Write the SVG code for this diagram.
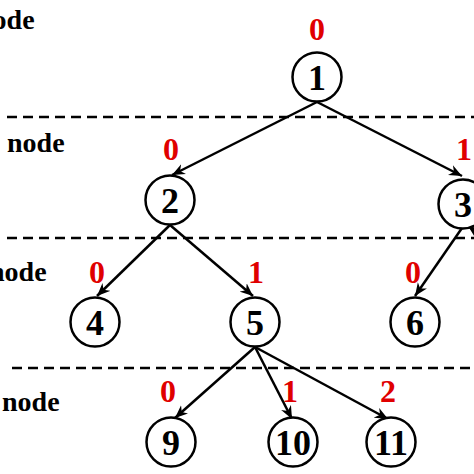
<svg xmlns="http://www.w3.org/2000/svg" width="474" height="474" viewBox="0 0 474 474">
<defs>
<marker id="arr" viewBox="-13 -6 14 12" refX="0" refY="0" markerWidth="14" markerHeight="12" markerUnits="userSpaceOnUse" orient="auto">
<path d="M0,0 L-13,-5.5 L-9,0 L-13,5.5 Z" fill="#000"/>
</marker>
</defs>
<style>
.lvl{font-family:"Liberation Serif","Times New Roman",serif;font-weight:bold;font-size:28px;fill:#000}
.dash{stroke:#000;stroke-width:2.5;stroke-dasharray:10 6;fill:none}
.node circle{fill:#fff;stroke:#000;stroke-width:2.5}
.node text{font-family:"Liberation Serif","Times New Roman",serif;font-weight:bold;font-size:36px;fill:#000;text-anchor:middle}
.lab{font-family:"Liberation Serif","Times New Roman",serif;font-weight:bold;font-size:32px;fill:#e00000;text-anchor:middle}
.edges line{stroke:#000;stroke-width:2.5;marker-end:url(#arr)}
</style>
<rect width="474" height="474" fill="#fff"/>
<g id="levels">
<text class="lvl" x="-23" y="29">node</text>
<text class="lvl" x="7" y="152">node</text>
<text class="lvl" x="-11" y="281">node</text>
<text class="lvl" x="2" y="411">node</text>
<line class="dash" x1="7" y1="117" x2="474" y2="117"/>
<line class="dash" x1="7" y1="238" x2="474" y2="238"/>
<line class="dash" x1="12" y1="368" x2="474" y2="368"/>
</g>
<g id="edges" class="edges">
<line x1="317" y1="102" x2="172" y2="175"/>
<line x1="317" y1="102" x2="462" y2="176"/>
<line x1="170" y1="225" x2="97" y2="296"/>
<line x1="170" y1="225" x2="253" y2="296"/>
<line x1="462" y1="228" x2="415" y2="296"/>
<line x1="495" y1="245" x2="468" y2="226"/>
<line x1="255" y1="347" x2="175" y2="418"/>
<line x1="255" y1="347" x2="292" y2="419"/>
<line x1="255" y1="347" x2="388" y2="419"/>
</g>
<g id="n1" class="node"><circle cx="317" cy="77" r="24.5"/><text x="317" y="90">1</text></g>
<g id="n2" class="node"><circle cx="170" cy="200" r="24.5"/><text x="170" y="213">2</text></g>
<g id="n3" class="node"><circle cx="463" cy="204" r="24.5"/><text x="463" y="217">3</text></g>
<g id="n4" class="node"><circle cx="95" cy="322" r="24.5"/><text x="95" y="335">4</text></g>
<g id="n5" class="node"><circle cx="255" cy="322" r="24.5"/><text x="255" y="335">5</text></g>
<g id="n6" class="node"><circle cx="415" cy="322" r="24.5"/><text x="415" y="335">6</text></g>
<g id="n9" class="node"><circle cx="171" cy="442" r="24.5"/><text x="171" y="455">9</text></g>
<g id="n10" class="node"><circle cx="293" cy="442" r="24.5"/><text x="293" y="455">10</text></g>
<g id="n11" class="node"><circle cx="391" cy="442" r="24.5"/><text x="391" y="455">11</text></g>
<g id="labels">
<text class="lab" x="317" y="40">0</text>
<text class="lab" x="171" y="160">0</text>
<text class="lab" x="464" y="160">1</text>
<text class="lab" x="97" y="283">0</text>
<text class="lab" x="256" y="283">1</text>
<text class="lab" x="413" y="283">0</text>
<text class="lab" x="168" y="402">0</text>
<text class="lab" x="290" y="402">1</text>
<text class="lab" x="388" y="402">2</text>
</g>
</svg>
